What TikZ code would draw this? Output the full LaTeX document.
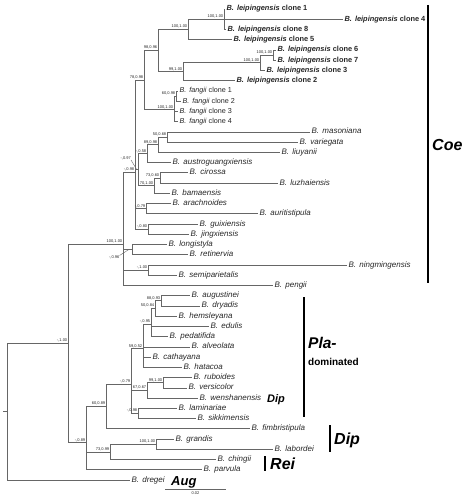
\documentclass[tikz,border=0pt]{standalone}
\usepackage{fontspec}
\setmainfont{Liberation Sans}
\newcommand{\bsp}[1]{\textit{B.\hspace{0.42em}#1}}
\newcommand{\lei}[1]{\textbf{\textit{B.\hspace{0.42em}leipingensis} clone #1}}
\newcommand{\fan}[1]{\textit{B.\hspace{0.42em}fangii} clone #1}
\newcommand{\blab}[2]{\node[sl,anchor=south east] (#1-s) at ([xshift=-0.6pt,yshift=0.9pt]#1) {#2};}
\begin{document}
\begin{tikzpicture}[x=1pt,y=-1pt,
  br/.style={draw=black!60,line width=0.75pt},
  lead/.style={draw=black!60,line width=0.4pt},
  tipbase/.style={anchor=west,inner sep=1.3pt,text=black!85,text height=5.6pt,text depth=1.6pt},
  tip/.style={tipbase,font=\fontsize{8}{9}\selectfont},
  tipl/.style={tipbase,font=\fontsize{7.4}{9}\selectfont},
  tipf/.style={tipbase,font=\fontsize{7.2}{8}\selectfont},
  sl/.style={font=\fontsize{4}{4.5}\selectfont,inner sep=0pt,text=black!85},
  bar/.style={draw=black,line width=2.3pt},
  clade/.style={anchor=base west,inner sep=0pt}
]
\useasboundingbox (0,0) rectangle (474,497);
% ---------- internal nodes ----------
\coordinate (nO) at (7,411.78);
\coordinate (stub) at (3,411.78);
\coordinate (nI) at (68,343.52);
\coordinate (nR) at (123,244.29);
\coordinate (nr) at (135,171.9);
\coordinate (ni) at (144,80.15);
\coordinate (nf) at (158,50.6);
\coordinate (nb) at (188,29.48);
\coordinate (na) at (224,19.24);
\coordinate (ne) at (183,71.72);
\coordinate (nd) at (260,62.76);
\coordinate (nc) at (273,55.08);
\coordinate (nh) at (174,109.69);
\coordinate (ng) at (176,96.04);
\coordinate (no) at (138,169.64);
\coordinate (nl) at (147,153.64);
\coordinate (nk) at (158,144.68);
\coordinate (nj) at (167,137.0);
\coordinate (nn) at (154,185.64);
\coordinate (nm) at (160,177.96);
\coordinate (np) at (146,208.68);
\coordinate (nq) at (148,229.16);
\coordinate (nY) at (132,249.64);
\coordinate (nZ) at (148,270.12);
\coordinate (nT) at (86,442.74);
\coordinate (nU) at (106,406.55);
\coordinate (ne1) at (131,384.25);
\coordinate (nd1) at (143,348.84);
\coordinate (nc1) at (151,323.88);
\coordinate (nb1) at (155,308.52);
\coordinate (na1) at (161,300.84);
\coordinate (nf1) at (147,390.44);
\coordinate (nh1) at (163,382.76);
\coordinate (ng1) at (138,413.48);
\coordinate (nV) at (110,451.88);
\coordinate (nW) at (156,444.2);
% ---------- tips ----------
\node[tipl] (L1) at (225,9.0) {\lei{1}};
\node[tipl] (L4) at (343,19.24) {\lei{4}};
\node[tipl] (L8) at (226,29.48) {\lei{8}};
\node[tipl] (L5) at (232,39.72) {\lei{5}};
\node[tipl] (L6) at (276,49.96) {\lei{6}};
\node[tipl] (L7) at (276,60.2) {\lei{7}};
\node[tipl] (L3) at (265,70.44) {\lei{3}};
\node[tipl] (L2) at (235,80.68) {\lei{2}};
\node[tipf] (F1) at (178,90.92) {\fan{1}};
\node[tipf] (F2) at (181,101.16) {\fan{2}};
\node[tipf] (F3) at (178,111.4) {\fan{3}};
\node[tipf] (F4) at (178,121.64) {\fan{4}};
\node[tip] (mas) at (310,131.88) {\bsp{masoniana}};
\node[tip] (var) at (298,142.12) {\bsp{variegata}};
\node[tip] (liu) at (280,152.36) {\bsp{liuyanii}};
\node[tip] (aus) at (171,162.6) {\bsp{austroguangxiensis}};
\node[tip] (cir) at (188,172.84) {\bsp{cirossa}};
\node[tip] (luz) at (278,183.08) {\bsp{luzhaiensis}};
\node[tip] (bam) at (170,193.32) {\bsp{bamaensis}};
\node[tip] (ara) at (171,203.56) {\bsp{arachnoides}};
\node[tip] (aur) at (258,213.8) {\bsp{auritistipula}};
\node[tip] (gui) at (198,224.04) {\bsp{guixiensis}};
\node[tip] (jin) at (189,234.28) {\bsp{jingxiensis}};
\node[tip] (lon) at (167,244.52) {\bsp{longistyla}};
\node[tip] (ret) at (188,254.76) {\bsp{retinervia}};
\node[tip] (nin) at (347,265.0) {\bsp{ningmingensis}};
\node[tip] (sem) at (177,275.24) {\bsp{semiparietalis}};
\node[tip] (pen) at (273,285.48) {\bsp{pengii}};
\node[tip] (augu) at (190,295.72) {\bsp{augustinei}};
\node[tip] (dry) at (200,305.96) {\bsp{dryadis}};
\node[tip] (hem) at (177,316.2) {\bsp{hemsleyana}};
\node[tip] (edu) at (209,326.44) {\bsp{edulis}};
\node[tip] (ped) at (168,336.68) {\bsp{pedatifida}};
\node[tip] (alv) at (190,346.92) {\bsp{alveolata}};
\node[tip] (cat) at (151,357.16) {\bsp{cathayana}};
\node[tip] (hat) at (182,367.4) {\bsp{hatacoa}};
\node[tip] (rub) at (192,377.64) {\bsp{ruboides}};
\node[tip] (ver) at (187,387.88) {\bsp{versicolor}};
\node[tip] (wen) at (198,398.12) {\bsp{wenshanensis}};
\node[tip] (lam) at (177,408.36) {\bsp{laminariae}};
\node[tip] (sik) at (196,418.6) {\bsp{sikkimensis}};
\node[tip] (fim) at (250,428.84) {\bsp{fimbristipula}};
\node[tip] (gra) at (174,439.08) {\bsp{grandis}};
\node[tip] (lab) at (273,449.32) {\bsp{labordei}};
\node[tip] (chi) at (216,459.56) {\bsp{chingii}};
\node[tip] (par) at (202,469.8) {\bsp{parvula}};
\node[tip] (dre) at (130,480.04) {\bsp{dregei}};
% ---------- branches ----------
\draw[br] (na) |- (L1.west) (na) |- (L4.west) (na) |- (L8.west);
\draw[br] (nb) |- (na) (nb) |- (L5.west);
\draw[br] (nc) |- (L6.west) (nc) |- (L7.west);
\draw[br] (nd) |- (nc) (nd) |- (L3.west);
\draw[br] (ne) |- (nd) (ne) |- (L2.west);
\draw[br] (nf) |- (nb) (nf) |- (ne);
\draw[br] (ng) |- (F1.west) (ng) |- (F2.west);
\draw[br] (nh) |- (ng) (nh) |- (F3.west) (nh) |- (F4.west);
\draw[br] (ni) |- (nf) (ni) |- (nh);
\draw[br] (nj) |- (mas.west) (nj) |- (var.west);
\draw[br] (nk) |- (nj) (nk) |- (liu.west);
\draw[br] (nl) |- (nk) (nl) |- (aus.west);
\draw[br] (nm) |- (cir.west) (nm) |- (luz.west);
\draw[br] (nn) |- (nm) (nn) |- (bam.west);
\draw[br] (no) |- (nl) (no) |- (nn);
\draw[br] (np) |- (ara.west) (np) |- (aur.west);
\draw[br] (nq) |- (gui.west) (nq) |- (jin.west);
\draw[br] (nr) |- (ni) (nr) |- (no) (nr) |- (np) (nr) |- (nq);
\draw[br] (nY) |- (lon.west) (nY) |- (ret.west);
\draw[br] (nZ) |- (nin.west) (nZ) |- (sem.west);
\draw[br] (nR) |- (nr) (nR) |- (nY) (nR) |- (nZ) (nR) |- (pen.west);
\draw[br] (na1) |- (augu.west) (na1) |- (dry.west);
\draw[br] (nb1) |- (na1) (nb1) |- (hem.west);
\draw[br] (nc1) |- (nb1) (nc1) |- (edu.west) (nc1) |- (ped.west);
\draw[br] (nd1) |- (nc1) (nd1) |- (alv.west) (nd1) |- (cat.west) (nd1) |- (hat.west);
\draw[br] (nh1) |- (rub.west) (nh1) |- (ver.west);
\draw[br] (nf1) |- (nh1) (nf1) |- (wen.west);
\draw[br] (ng1) |- (lam.west) (ng1) |- (sik.west);
\draw[br] (ne1) |- (nd1) (ne1) |- (nf1) (ne1) |- (ng1);
\draw[br] (nU) |- (ne1) (nU) |- (fim.west);
\draw[br] (nW) |- (gra.west) (nW) |- (lab.west);
\draw[br] (nV) |- (nW) (nV) |- (chi.west);
\draw[br] (nT) |- (nU) (nT) |- (nV) (nT) |- (par.west);
\draw[br] (nI) |- (nR) (nI) |- (nT);
\draw[br] (nO) |- (nI) (nO) |- (dre.west);
\draw[br] (stub) -- (nO);
% ---------- support values ----------
\blab{na}{100,1.00}
\blab{nb}{100,1.00}
\blab{nc}{100,1.00}
\blab{nd}{100,1.00}
\blab{ne}{99,1.00}
\blab{nf}{98,0.96}
\blab{ng}{60,0.98}
\blab{nh}{100,1.00}
\blab{ni}{78,0.98}
\blab{nj}{50,0.68}
\blab{nk}{89,0.98}
\blab{nl}{-,0.58}
\blab{nm}{73,0.60}
\blab{nn}{70,1.00}
\blab{np}{-,0.79}
\blab{nq}{-,0.80}
\blab{nr}{-,0.98}
\blab{nZ}{-,1.00}
\blab{nR}{100,1.00}
\blab{na1}{88,0.93}
\blab{nb1}{50,0.84}
\blab{nc1}{-,0.95}
\blab{nd1}{59,0.52}
\blab{nh1}{99,1.00}
\blab{nf1}{67,0.67}
\blab{ng1}{-,0.98}
\blab{ne1}{-,0.79}
\blab{nU}{60,0.89}
\blab{nW}{100,1.00}
\blab{nV}{73,0.99}
\blab{nT}{-,0.89}
\blab{nI}{-,1.00}
% leader-line labels
\coordinate (oLead) at (136.5,169.2);
\node[sl,anchor=south east] (no-s) at (131,160) {-,0.97};
\draw[lead] (no-s.south east) -- (oLead);
\coordinate (YLead) at (129,249.4);
\node[sl,anchor=north east] (nY-s) at (119.5,255.5) {-,0.96};
\draw[lead] (nY-s.north east) -- (YLead);
% ---------- clade bars and names ----------
\coordinate (coeT) at (428,5);
\coordinate (coeB) at (428,283);
\draw[bar] (coeT) -- (coeB);
\node[clade,font=\fontsize{16}{16}\selectfont\bfseries\itshape] (coe) at (432,150.7) {Coe};
\coordinate (plaT) at (304,297);
\coordinate (plaB) at (304,417);
\draw[bar] (plaT) -- (plaB);
\node[clade,font=\fontsize{15.5}{15.5}\selectfont\bfseries\itshape] (pla) at (308,348.4) {Pla-};
\node[clade,font=\fontsize{10}{10}\selectfont\bfseries] (dom) at (308,365.5) {dominated};
\node[clade,font=\fontsize{11}{11}\selectfont\bfseries\itshape] (dipa) at (267,402) {Dip};
\coordinate (dipT) at (330,425);
\coordinate (dipB) at (330,452);
\draw[bar] (dipT) -- (dipB);
\node[clade,font=\fontsize{16}{16}\selectfont\bfseries\itshape] (dipb) at (334,444.7) {Dip};
\coordinate (reiT) at (265,456);
\coordinate (reiB) at (265,471);
\draw[bar] (reiT) -- (reiB);
\node[clade,font=\fontsize{16}{16}\selectfont\bfseries\itshape] (rei) at (270,469.2) {Rei};
\node[clade,font=\fontsize{13}{13}\selectfont\bfseries\itshape] (aug) at (171,485) {Aug};
% ---------- scale bar ----------
\coordinate (sbL) at (165,489);
\coordinate (sbR) at (226,489);
\draw[br] (sbL) -- (sbR);
\node[sl,anchor=north] (sbT) at (195.5,491.5) {0.02};
\end{tikzpicture}
\end{document}
